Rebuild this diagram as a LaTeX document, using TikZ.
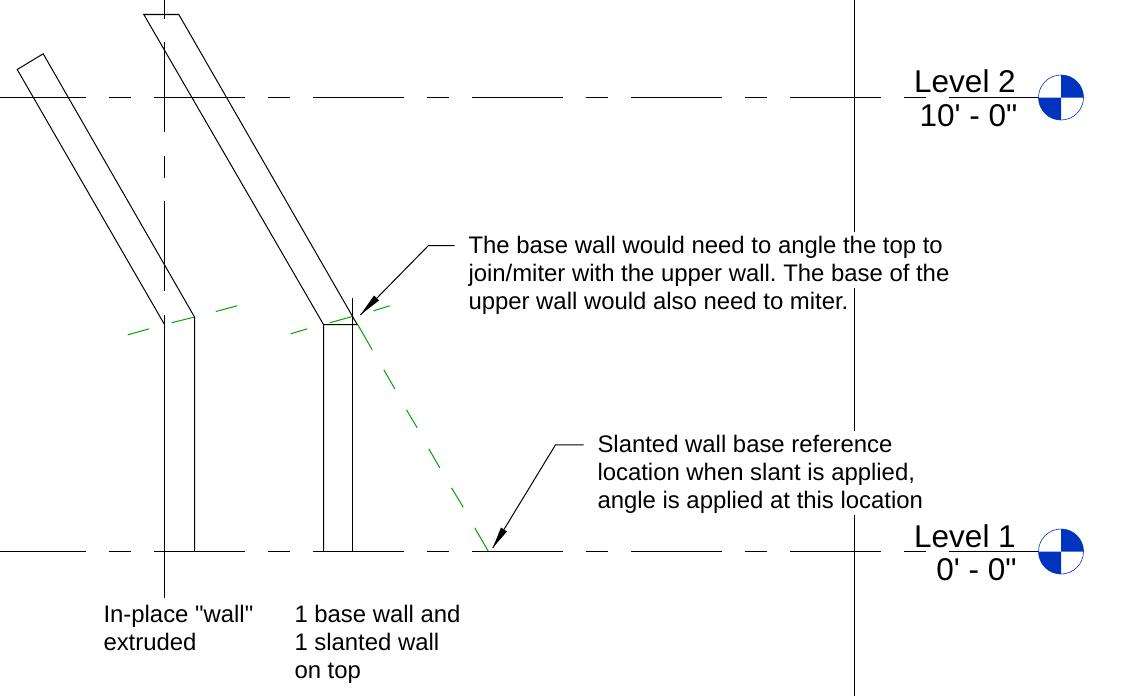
\documentclass[tikz,border=0pt]{standalone}
\usepackage{fontspec}
\setmainfont{Liberation Sans}[Ligatures=TeXOff]
\usetikzlibrary{calc, positioning}
\definecolor{levelblue}{RGB}{0,51,190}
\definecolor{refgreen}{RGB}{0,165,0}
\frenchspacing

\begin{document}
\begin{tikzpicture}[x=1pt, y=-1pt, line width=1pt]
    % Styles
    \tikzset{
        wall/.style={draw=black},
        gridline/.style={draw=black, dash pattern=on 90.5pt off 23pt on 22pt off 23.5pt},
        refline/.style={draw=refgreen},
        leader/.style={draw=black},
        tiphead/.style={fill=black, draw=none},
        note/.style={align=left, anchor=north west, inner sep=0pt, font=\fontsize{23.9}{28}\selectfont},
        leveltext/.style={inner sep=0pt, font=\fontsize{31.5}{32}\selectfont},
        bubble/.pic={
            \fill[levelblue] (0,0) -- (-22.5,0) arc[start angle=180, end angle=90, radius=22.5] -- cycle;
            \fill[levelblue] (0,0) -- (22.5,0) arc[start angle=0, end angle=-90, radius=22.5] -- cycle;
            \draw[levelblue, line width=0.6pt] (0,0) circle[radius=22.5];
        }
    }
    \useasboundingbox (-0.5,-0.5) rectangle (1135.5,695.5);

    % Level lines
    \coordinate (lvl2_start) at (0,97);
    \coordinate (lvl2_tick) at (925,97);
    \coordinate (lvl2_tail) at (948,97);
    \coordinate (lvl2_end) at (1038,97);
    \coordinate (lvl1_start) at (0,551);
    \coordinate (lvl1_tick) at (925,551);
    \coordinate (lvl1_tail) at (948,551);
    \coordinate (lvl1_end) at (1038,551);
    \draw[gridline, dash phase=5.5pt] (lvl2_start) -- (lvl2_tick);
    \draw (lvl2_tail) -- (lvl2_end);
    \draw[gridline, dash phase=5.5pt] (lvl1_start) -- (lvl1_tick);
    \draw (lvl1_tail) -- (lvl1_end);
    \pic at (1060.5,97) {bubble};
    \pic at (1060.5,551) {bubble};
    \node[leveltext] (lvl2_name) at (964.5,81) {Level 2};
    \node[leveltext] (lvl2_value) at (968,115) {10' - 0"};
    \node[leveltext] (lvl1_name) at (964.5,536) {Level 1};
    \node[leveltext] (lvl1_value) at (976,569) {0' - 0"};

    % Vertical grids
    \foreach \ya/\yb [count=\i] in {0/18, 41/131, 155/177, 200/290, 314/597}
        \draw (164,\ya) coordinate (grid_a\i) -- (164,\yb) coordinate (grid_b\i);
    \foreach \ya/\yb [count=\i] in {0/231, 287/430, 514/696}
        \draw (854,\ya) coordinate (grid_c\i) -- (854,\yb) coordinate (grid_d\i);

    % LEFT WALL: in-place
    \coordinate (left_a) at (16.7,69);
    \coordinate (left_b) at (42.7,53.3);
    \coordinate (left_c) at (194,316.5);
    \coordinate (left_d) at (194,551);
    \coordinate (left_e) at (164,324);
    \draw[wall] (left_e) -- (left_a) -- (left_b) -- (left_c) -- (left_d);

    % RIGHT WALL: base and slanted
    \coordinate (slant_a) at (143.3,14);
    \coordinate (slant_b) at (178.3,14);
    \coordinate (slant_c) at (356.7,324);
    \coordinate (base_a) at (323,324);
    \coordinate (base_b) at (323,551);
    \coordinate (base_c) at (352,297);
    \coordinate (base_d) at (352,551);
    \draw[wall] (base_a) -- (slant_a) -- (slant_b) -- (slant_c) -- (base_a) -- (base_b);
    \draw[wall] (base_c) -- (base_d);

    % Green reference
    \foreach \xa/\ya/\xb/\yb in {127.3/334.3/148.7/328.3, 171/322.3/193.3/316.7, 215.3/311/236.7/305.3,
        290.3/333.3/306.7/328.3, 329.3/322.3/351.7/316, 373/310.3/389.3/305.3,
        357.3/324.3/371.7/349.3, 383.3/369.3/394.3/388.3, 406/409.3/416.7/427.3,
        428.3/448.3/439.3/467.3, 451/487.3/462.7/506.7, 474.3/527.3/487.7/550.7}
        \draw[refline] (\xa,\ya) -- (\xb,\yb);

    % Notes
    \node[note] (note_miter) at (467.5,235) {The base wall would need to angle the top to\\join/miter with the upper wall. The base of the\\upper wall would also need to miter.};
    \node[note] (note_slant) at (596.5,434) {Slanted wall base reference\\location when slant is applied,\\angle is applied at this location};
    \node[note] (note_inplace) at (102.5,604) {In-place "wall"\\extruded};
    \node[note] (note_base) at (293.5,604) {1 base wall and\\1 slanted wall\\on top};

    % Leaders
    \coordinate (lead_a_start) at (454,245);
    \coordinate (lead_a_knee) at (428,245);
    \coordinate (lead_a_tip) at (360,314.3);
    \coordinate (lead_b_start) at (583,444.3);
    \coordinate (lead_b_knee) at (555,444.3);
    \coordinate (lead_b_tip) at (492.3,547.3);
    \draw[leader] (lead_a_start) -- (lead_a_knee) -- (lead_a_tip);
    \draw[leader] (lead_b_start) -- (lead_b_knee) -- (lead_b_tip);
    \fill[tiphead] (lead_a_tip) -- (373.5,295) -- (378.5,300) -- cycle;
    \fill[tiphead] (lead_b_tip) -- (500.5,527) -- (506.5,531) -- cycle;
\end{tikzpicture}
\end{document}
